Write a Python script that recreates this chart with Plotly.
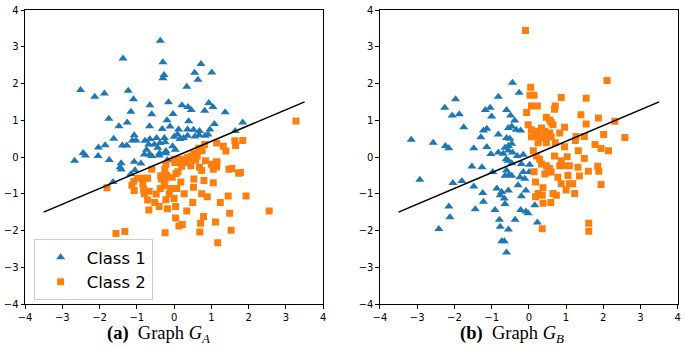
import plotly.graph_objects as go

# ---------------- data ----------------
# Graph G_A, class 1 (triangles)
ga_c1_x = [-0.37, -1.37, -0.30, -0.27, -0.30, 0.72, 0.55, 1.01, 0.64,
           -2.51, -2.13, -1.87, -1.23, -1.09, 0.34, -0.15, -0.65, 0.21, 0.37, 0.46, 0.93, 1.04, 0.82,
           -1.16, -0.60, -0.03, 1.37,
           -1.75, -1.26, -1.48, -0.66, -0.19, 0.39, -0.11, -0.32, 1.08, 1.84, 0.12, 0.36, 0.68, 0.52, 0.96, 1.64,
           -1.07, -1.62, -1.12, -1.02, -1.39, -1.27, -0.78, -0.65, -0.47, -0.26, 0.00, 0.09, 0.16, 0.25, 0.36,
           0.56, 0.67, 0.83, 0.91,
           -0.68, -0.53, -0.38, -0.24, -0.04, -1.85, -2.03, -2.44, -2.38, -2.04, -0.80, -0.66, -0.39, -0.22,
           0.03, -0.44, -0.74,
           -2.67, -1.74, -1.42, -1.45, -1.42, -1.64, -1.16, -1.07, -0.89, -0.60, -0.40, -0.18, -0.22, -1.05]
ga_c1_y = [3.16, 2.68, 2.58, 2.23, 2.14, 2.53, 2.29, 2.30, 2.10,
           1.82, 1.64, 1.73, 1.80, 1.57, 1.91, 1.49, 1.41, 1.41, 1.36, 1.28, 1.47, 1.36, 1.26,
           1.23, 1.16, 1.17, 1.22,
           1.04, 0.94, 0.84, 0.84, 1.00, 0.97, 0.83, 0.76, 0.90, 0.94, 0.75, 0.75, 0.71, 0.74, 0.75, 0.71,
           0.59, 0.50, 0.45, 0.45, 0.31, 0.31, 0.44, 0.49, 0.52, 0.52, 0.55, 0.61, 0.49, 0.52, 0.58,
           0.56, 0.60, 0.58, 0.61,
           0.34, 0.34, 0.38, 0.40, 0.29, 0.32, 0.26, 0.11, 0.04, 0.03, 0.07, 0.07, 0.10, 0.16,
           0.20, 0.25, 0.20,
           -0.10, -0.08, -0.17, -0.28, -0.34, -0.68, -0.46, -0.13, -0.18, 0.03, 0.04, -0.08, 0.10, -0.36]

# Graph G_A, class 2 (squares)
ga_c2_x = [3.27, 0.82, 1.14, 1.32, 1.39, 1.63, 1.65, 1.84, 0.53, 0.71, 0.62, 0.66, 0.75, 0.45,
           0.84, 1.14, 0.00, 0.18, 0.36, 0.49, 0.58, 0.17, 0.02, -0.22, -0.25, -0.20, -0.24, -0.26,
           0.20, 0.30, 0.45, 0.68, 0.74, 1.00, 1.05, 1.14, 1.15, 1.47, 1.55, 1.73, 1.78, -0.60,
           -1.80, -1.56, -1.32, -0.24, -1.08, -1.13, -1.07, -0.98, -0.82, -0.71, -0.84, -0.82, -0.80,
           -0.67, -0.71, -0.68, -0.48, -0.52, -0.40, -0.37, -0.34, -0.36, -0.22, -0.18, -0.13, -0.09,
           0.00, 0.04, 0.04, 0.13, 0.22, 0.18, 0.07, 0.27, 0.34, 0.53, 0.52, 0.50, 0.74, 0.89, 0.80,
           0.79, 0.71, 0.69, 1.05, 1.11, 1.17, 1.24, 1.45, 1.49, 1.53, 1.93, 2.55,
           0.20, 0.10, -0.05, 0.05]
ga_c2_y = [0.98, 0.34, 0.38, 0.29, 0.16, 0.44, 0.31, 0.45, 0.10, 0.20, 0.03, 0.24, 0.17, 0.02,
           -0.10, -0.13, -0.06, -0.06, -0.02, -0.05, -0.09, -0.12, -0.15, -0.20, -0.35, -0.50, -0.62, -0.78,
           -0.10, -0.15, -0.24, -0.28, -0.37, -0.20, -0.33, -0.27, -0.15, -0.33, -0.31, -0.44, -0.42, -0.33,
           -0.84, -2.08, -2.03, -2.06, -0.66, -0.77, -0.91, -0.58, -0.58, -0.58, -0.73, -0.88, -1.00,
           -0.93, -1.17, -1.44, -1.01, -1.24, -1.35, -0.86, -0.60, -0.51, -1.16, -1.41, -1.00, -0.86,
           -1.13, -1.35, -1.66, -1.88, -1.84, -0.68, -0.86, -1.00, -1.47, -0.60, -0.82, -1.24, -1.00, -1.08, -0.64,
           -1.62, -1.80, -2.04, -0.70, -1.77, -2.33, -1.24, -1.06, -1.53, -1.99, -1.06, -1.47,
           -0.25, -0.40, -0.55, -0.45]

# Graph G_B, class 1 (triangles)
gb_c1_x = [-0.44, -0.26, -0.82, -1.97, -2.26, -2.06, -1.87, -1.75, -1.17, -1.04, -1.00, -0.60, -0.49,
           -0.38, -0.34, -0.46, -0.55, -0.22, -1.22, -1.13, -1.29, -0.82, -0.60, -0.51, -0.46, -0.55,
           -0.64, -1.48, -1.13, -1.02, -0.82, -0.69, -0.55, -0.44, -0.31, -0.15, -0.61, -0.55, -0.46,
           -0.20, 0.02, 0.01, -0.15, -1.53, -1.26, -0.97, -0.60, -0.53, -0.64, -0.46, -0.24, -0.11,
           -2.04, -1.80, -1.48, -0.86, -0.73, -0.77, -0.55, -0.29, -0.08, -0.20, -1.24, -1.22, -0.66,
           -0.64, -0.91, -1.44, -2.15, -2.12, -2.42, -0.79, -0.77, -0.55, -0.37, -0.22, -0.08, -0.02,
           0.16, 0.23, -0.73, -0.66, -0.60, -3.16, -2.57, -2.24, -2.15, -2.93]
gb_c1_y = [2.02, 1.75, 1.64, 1.57, 1.34, 1.13, 1.16, 0.81, 1.28, 1.34, 1.10, 1.28, 1.13,
           0.99, 0.74, 0.83, 0.79, 0.72, 0.72, 0.77, 0.54, 0.61, 0.52, 0.50, 0.36, 0.30,
           0.25, 0.24, 0.27, 0.08, 0.12, 0.09, 0.18, 0.12, 0.03, 0.06, -0.06, -0.10, -0.17,
           -0.19, -0.21, -0.41, -0.41, -0.26, -0.28, -0.41, -0.37, -0.48, -0.51, -0.51, -0.55, -0.59,
           -0.71, -0.65, -0.80, -0.86, -0.95, -1.04, -0.91, -0.77, -0.91, -1.07, -0.98, -1.22, -1.13,
           -1.28, -1.44, -1.42, -1.35, -1.64, -1.96, -1.71, -1.90, -1.97, -1.71, -1.44, -1.48, -1.53,
           -1.31, -1.78, -2.29, -2.29, -2.60, 0.47, 0.39, 0.30, 0.24, -0.62]

# Graph G_B, class 2 (squares)
gb_c2_x = [-0.09, 0.05, 0.03, 0.14, -0.06, 0.07, 0.23, 0.71, 0.69, 0.87, 1.54, 2.10, 1.40, 1.54,
           1.87, 2.31, 2.01, 0.47, 0.56, 0.60, 0.65, 0.34, 0.25, 0.43, 0.56, 0.83, 0.96, -0.02, 0.07,
           0.07, 0.20, 0.34, 0.47, 0.60, 0.25, 0.47, 0.71, 0.96, 0.12, 0.20, 0.29, 0.69, 0.87, 1.03,
           1.33, 1.49, 1.78, 1.94, 2.14, 1.27, 1.25, 1.49, 2.58,
           0.34, 0.47, 0.56, 0.52, 0.43, 0.60, 0.83, 0.92, 1.09, 1.32, 1.60, 1.85, 1.88, 0.14, 0.78,
           1.05, 1.36, 0.18, 0.38, 0.25, 0.36, 0.65, 0.74, 0.87, 1.00, 1.09, 1.18, 1.23, 1.94, 0.59,
           0.38, 0.18, 1.61, 1.61, 0.36]
gb_c2_y = [3.44, 1.90, 1.68, 1.68, 1.21, 1.39, 1.39, 1.39, 1.30, 1.62, 1.60, 2.08, 1.15, 0.90,
           1.06, 0.97, 0.61, 1.08, 1.01, 0.94, 0.88, 0.79, 0.70, 0.70, 0.65, 0.65, 0.81, 0.88, 0.74,
           0.55, 0.57, 0.52, 0.58, 0.55, 0.39, 0.39, 0.39, 0.28, 0.17, 0.03, -0.06, 0.03, -0.10, 0.01,
           0.17, -0.04, 0.34, 0.23, 0.17, 0.56, 0.45, 0.56, 0.53,
           -0.19, -0.24, -0.31, -0.41, -0.46, -0.41, -0.24, -0.24, -0.24, -0.28, -0.39, -0.25, -0.39, -0.40, -0.55,
           -0.50, -0.52, -0.68, -0.84, -0.99, -1.04, -0.99, -1.04, -0.73, -0.90, -0.73, -0.73, -0.99, -0.75, -1.24,
           -1.26, -1.08, -1.80, -2.02, -1.95]

# separating line (same in both graphs)
line_x = [-3.5, 3.5]
line_y = [-1.5, 1.5]

class_names = ["Class 1", "Class 2"]
captions = ["<b>(a)</b>  Graph <i>G</i><sub><i>A</i></sub>",
            "<b>(b)</b>  Graph <i>G</i><sub><i>B</i></sub>"]
tick_vals = [-4, -3, -2, -1, 0, 1, 2, 3, 4]

# ---------------- figure ----------------
BLUE = "#1f77b4"
ORANGE = "#ff7f0e"
W, H = 685, 351
ML, MR, MT, MB = 23, 4, 5, 47
pw = W - ML - MR
ph = H - MT - MB

fig = go.Figure()

panels = [
    (ga_c1_x, ga_c1_y, ga_c2_x, ga_c2_y, "x", "y"),
    (gb_c1_x, gb_c1_y, gb_c2_x, gb_c2_y, "x2", "y2"),
]
for i, (c1x, c1y, c2x, c2y, xa, ya) in enumerate(panels):
    fig.add_trace(go.Scatter(x=c1x, y=c1y, mode="markers", xaxis=xa, yaxis=ya,
                             name=class_names[0], showlegend=(i == 0),
                             marker=dict(symbol="triangle-up", size=8, color=BLUE,
                                         line=dict(width=0))))
    fig.add_trace(go.Scatter(x=c2x, y=c2y, mode="markers", xaxis=xa, yaxis=ya,
                             name=class_names[1], showlegend=(i == 0),
                             marker=dict(symbol="square", size=7, color=ORANGE,
                                         line=dict(width=0))))
    fig.add_trace(go.Scatter(x=line_x, y=line_y, mode="lines", xaxis=xa, yaxis=ya,
                             showlegend=False, line=dict(color="black", width=1.6)))

axis_common = dict(range=[-4, 4], tickvals=tick_vals, showgrid=False, zeroline=False,
                   showline=True, mirror=True, linecolor="black", linewidth=1,
                   ticks="outside", ticklen=3.5, tickwidth=1, tickcolor="black",
                   ticklabeloverflow="allow",
                   tickfont=dict(family="DejaVu Sans", size=10, color="black"))

d1 = [0, (323.5 - ML) / pw]
d2 = [(380.7 - ML) / pw, (680.7 - ML) / pw]
fig.update_layout(
    width=W, height=H,
    margin=dict(l=ML, r=MR, t=MT, b=MB),
    paper_bgcolor="white", plot_bgcolor="white",
    xaxis=dict(domain=d1, anchor="y", **axis_common),
    yaxis=dict(domain=[0, 1], anchor="x", **axis_common),
    xaxis2=dict(domain=d2, anchor="y2", **axis_common),
    yaxis2=dict(domain=[0, 1], anchor="x2", **axis_common),
    legend=dict(x=(31.7 - ML) / pw, y=(H - MB - 238) / ph, xanchor="left", yanchor="top",
                bgcolor="rgba(255,255,255,0.8)", bordercolor="#cccccc", borderwidth=1,
                font=dict(family="DejaVu Sans", size=16.5, color="black"),
                itemwidth=42),
    showlegend=True,
    hovermode=False,
)

cap_x = [158, 514]
for cx, txt in zip(cap_x, captions):
    fig.add_annotation(x=(cx - ML) / pw, y=(H - MB - 335) / ph, xref="paper", yref="paper",
                       text=txt, showarrow=False, xanchor="center", yanchor="middle",
                       font=dict(family="Liberation Serif", size=18.5, color="black"))

fig.write_html("out.html", config={"displayModeBar": False},
               post_script="document.body.style.margin='0';document.body.style.overflow='hidden';")
